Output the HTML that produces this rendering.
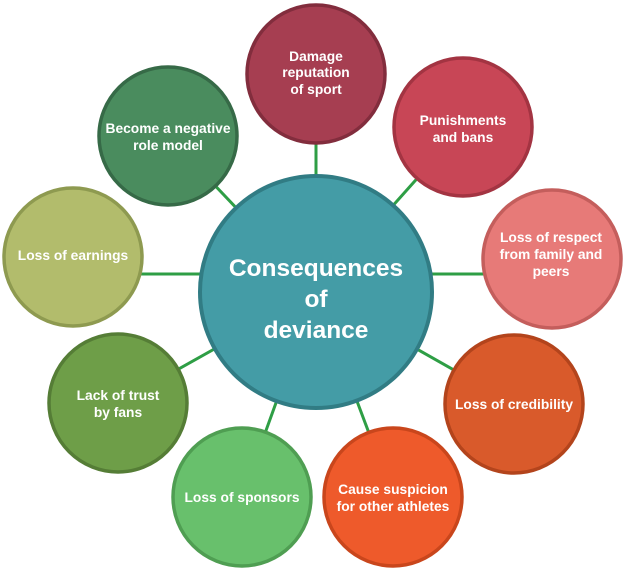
<!DOCTYPE html>
<html><head><style>
body{margin:0;background:#fff}
svg{display:block}
text{font-family:"Liberation Sans",Arial,sans-serif;font-weight:bold;fill:#fff;text-anchor:middle}
</style></head><body>
<svg width="624" height="572" viewBox="0 0 624 572">
<g stroke="#2e9e45" stroke-width="3">
<line x1="316" y1="292" x2="316" y2="74"/>
<line x1="316" y1="292" x2="463" y2="127"/>
<line x1="400" y1="274" x2="552" y2="274"/>
<line x1="316" y1="292" x2="514" y2="404"/>
<line x1="316" y1="292" x2="393" y2="497"/>
<line x1="316" y1="292" x2="242" y2="497"/>
<line x1="316" y1="292" x2="118" y2="403"/>
<line x1="73" y1="274" x2="230" y2="274"/>
<line x1="316" y1="292" x2="168" y2="136"/>
</g>
<g stroke-width="3.5">
<circle cx="316" cy="74" r="69" fill="#a63e51" stroke="#822d3d"/>
<circle cx="463" cy="127" r="69" fill="#c84656" stroke="#a33442"/>
<circle cx="552" cy="259" r="69" fill="#e77a78" stroke="#c45e5c"/>
<circle cx="514" cy="404" r="69" fill="#d95a2b" stroke="#b3441c"/>
<circle cx="393" cy="497" r="69" fill="#ee5a2b" stroke="#c9461c"/>
<circle cx="242" cy="497" r="69" fill="#68c06c" stroke="#4f9e52"/>
<circle cx="118" cy="403" r="69" fill="#6e9e48" stroke="#557d36"/>
<circle cx="73" cy="257" r="69" fill="#b2bc6c" stroke="#8e9a50"/>
<circle cx="168" cy="136" r="69" fill="#4a8c5e" stroke="#366a47"/>
<circle cx="316" cy="292" r="116" fill="#449ca6" stroke="#317c84" stroke-width="4"/>
</g>
<g font-size="13.8">
<text x="316" y="61">Damage</text><text x="316" y="77">reputation</text><text x="316" y="94">of sport</text>
<text x="463" y="125">Punishments</text><text x="463" y="142">and bans</text>
<text x="551" y="242">Loss of respect</text><text x="551" y="259">from family and</text><text x="551" y="276">peers</text>
<text x="514" y="409">Loss of credibility</text>
<text x="393" y="494">Cause suspicion</text><text x="393" y="511">for other athletes</text>
<text x="242" y="502">Loss of sponsors</text>
<text x="118" y="400">Lack of trust</text><text x="118" y="417">by fans</text>
<text x="73" y="260">Loss of earnings</text>
<text x="168" y="133">Become a negative</text><text x="168" y="150">role model</text>
</g>
<g font-size="24.5">
<text x="316" y="276">Consequences</text><text x="316" y="307">of</text><text x="316" y="338">deviance</text>
</g>
</svg>
</body></html>
